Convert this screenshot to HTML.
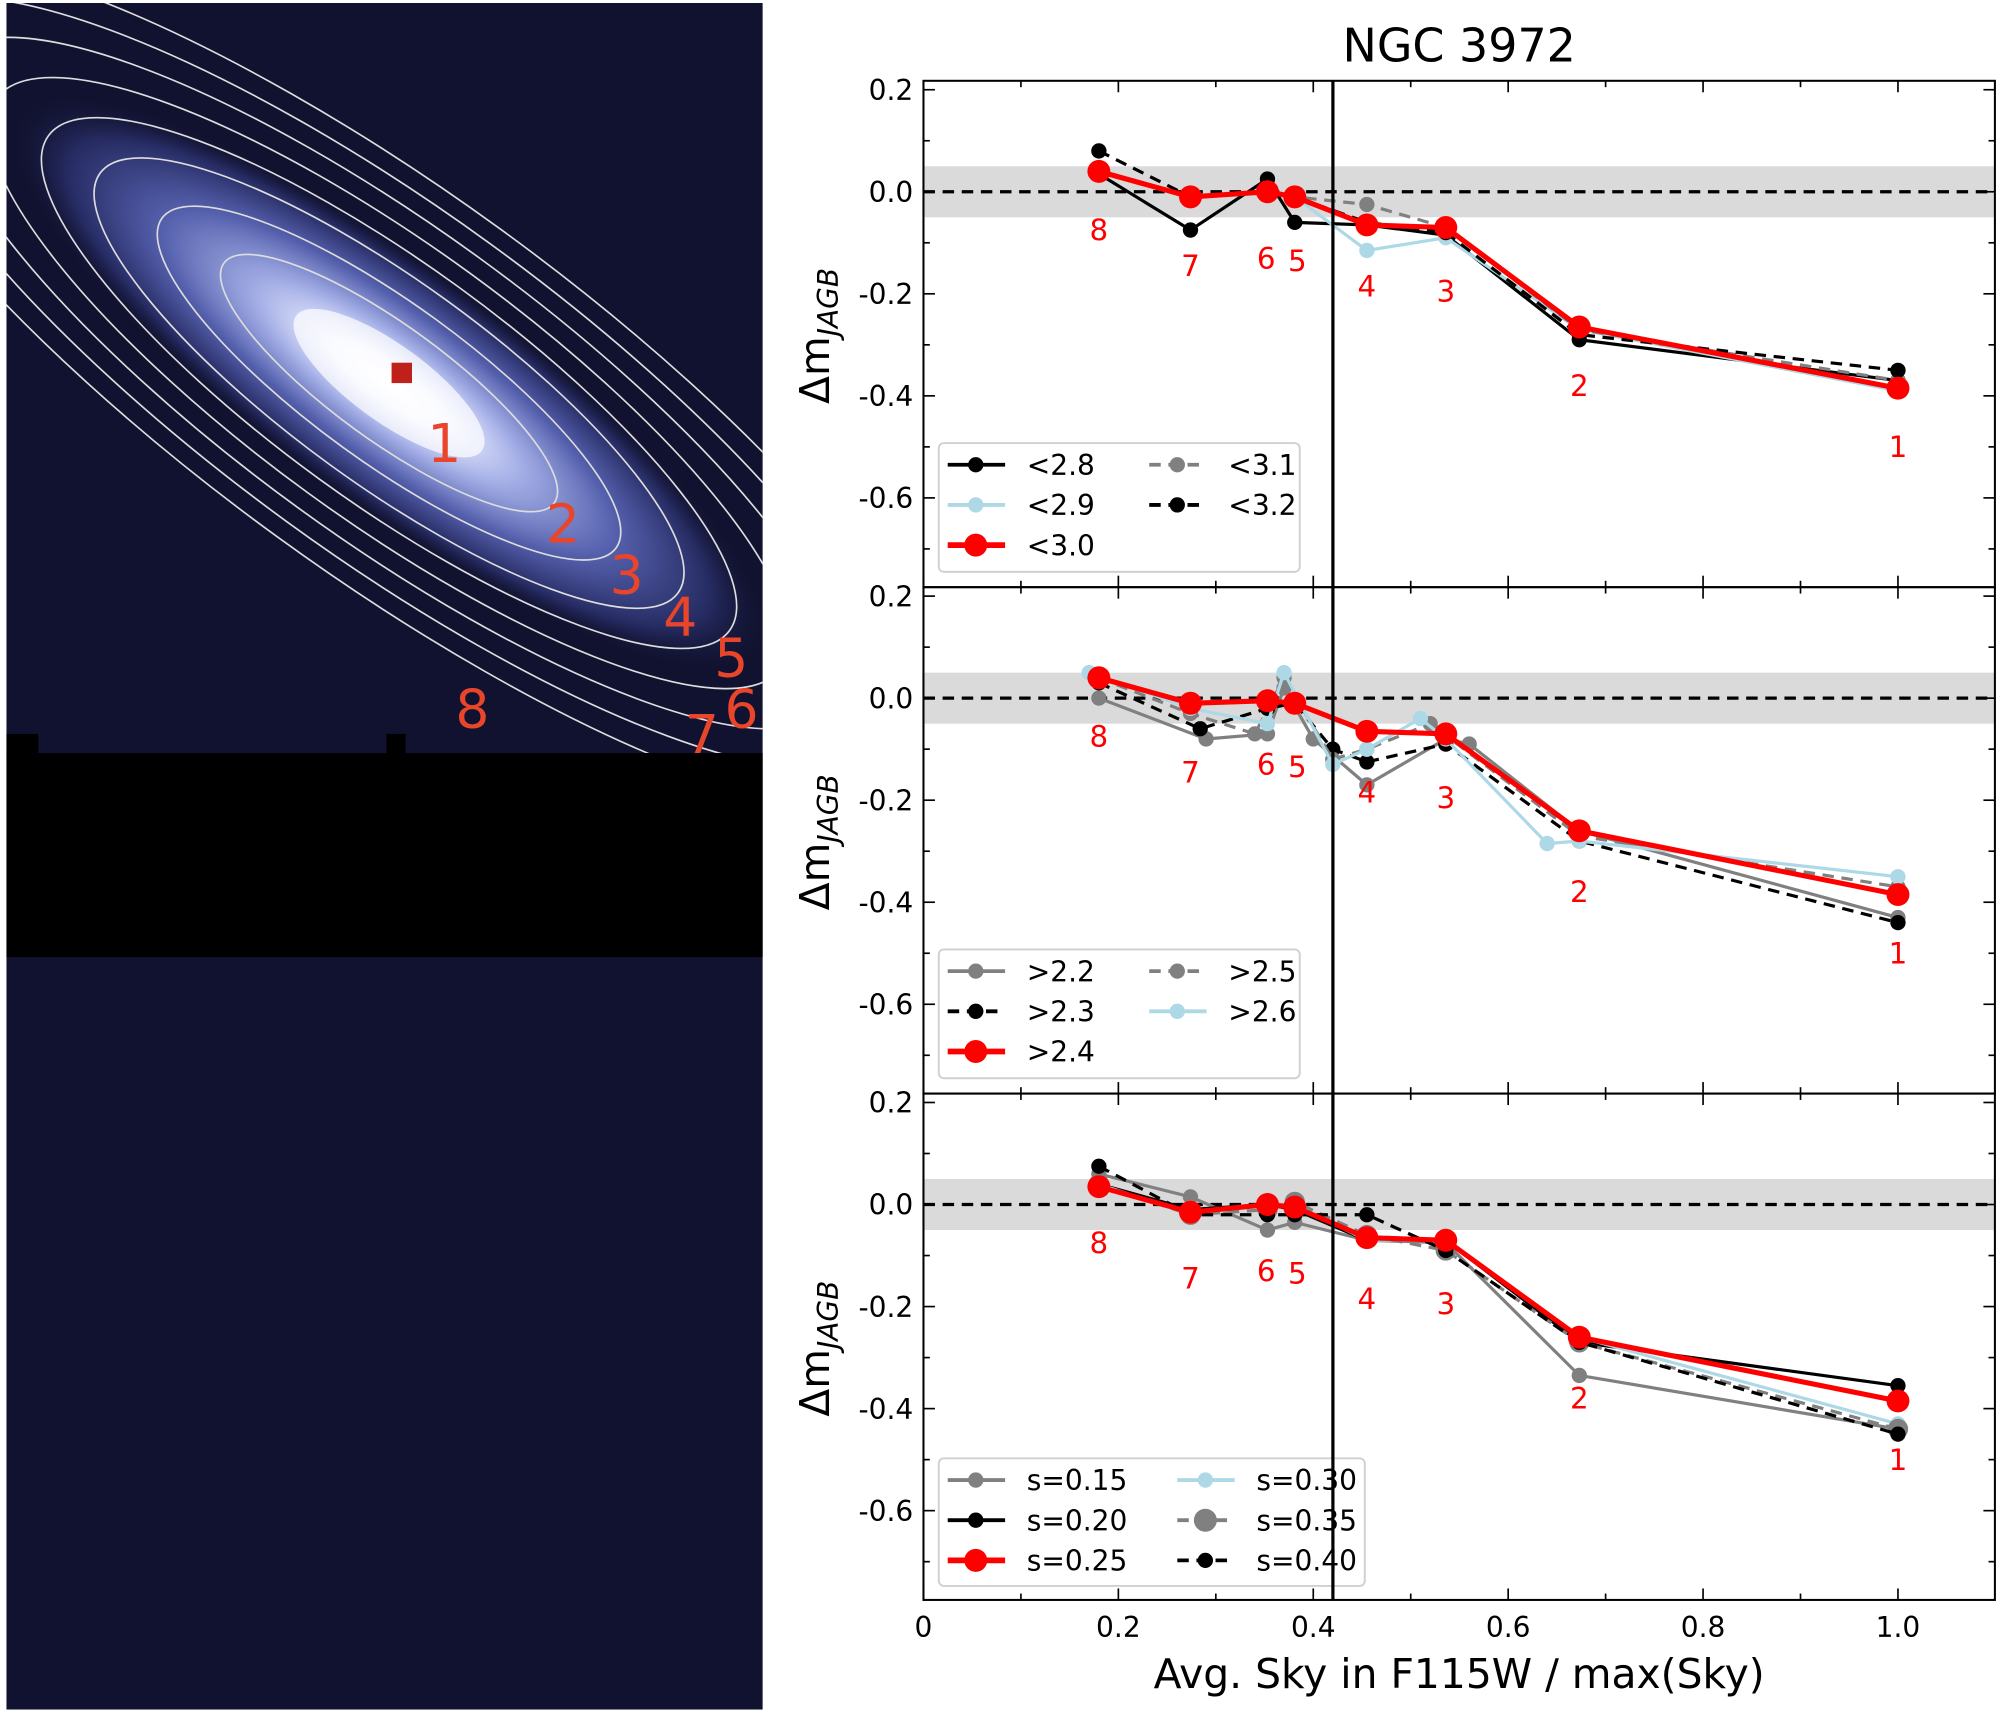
<!DOCTYPE html>
<html><head><meta charset="utf-8"><style>
html,body{margin:0;padding:0;background:#fff}
svg{display:block}
text{font-family:"DejaVu Sans","Liberation Sans",sans-serif}
</style></head><body>
<svg id="s" width="2000" height="1719" viewBox="0 0 1568 1347" xmlns="http://www.w3.org/2000/svg">
<defs>
<radialGradient id="gal" cx="0.5" cy="0.5" r="0.5">
<stop offset="0" stop-color="#ffffff"/>
<stop offset="0.15" stop-color="#eef0ff"/>
<stop offset="0.35" stop-color="#a3aee6"/>
<stop offset="0.6" stop-color="#5560ad"/>
<stop offset="0.85" stop-color="#262b62"/>
<stop offset="1" stop-color="#141634" stop-opacity="0"/>
</radialGradient>
<clipPath id="img"><rect x="5" y="2" width="593" height="1338"/></clipPath>
</defs>
<g clip-path="url(#img)">
<rect x="5" y="2" width="593" height="1338" fill="#111230"/>
<g transform="translate(305,300) rotate(36)">
<ellipse cx="0" cy="0" rx="360" ry="95" fill="url(#gal)"/>
<ellipse cx="0" cy="0" rx="90" ry="30" fill="#fff" opacity="0.7"/>
</g>
<g id="cont" transform="translate(305,300) rotate(36)" fill="none" stroke="#ddd" stroke-width="1.3"></g>
<rect x="5" y="590" width="593" height="160" fill="#000"/>
<rect x="5" y="575" width="25" height="20" fill="#000"/>
<rect x="303" y="575" width="15" height="18" fill="#000"/>
</g>
<rect x="307" y="284" width="16" height="16" fill="#c0201a"/>
<g fill="#e8452a" font-size="42" font-family="Liberation Sans,sans-serif">
<text x="335" y="362">1</text><text x="428" y="425">2</text><text x="478" y="465">3</text>
<text x="520" y="498">4</text><text x="560" y="530">5</text><text x="568" y="570">6</text>
<text x="537" y="590">7</text><text x="357" y="570">8</text>
</g>
<g id="plot"></g>
</svg>
<script>
const NS="http://www.w3.org/2000/svg";
function el(p,t,a,txt){const e=document.createElementNS(NS,t);for(const k in a)e.setAttribute(k,a[k]);if(txt!==undefined)e.textContent=txt;p.appendChild(e);return e;}
const cont=document.getElementById('cont');
[[160,45],[220,62],[280,79],[330,93],[380,107],[430,121],[480,135],[530,149]].forEach(r=>el(cont,'ellipse',{cx:0,cy:0,rx:r[0],ry:r[1]}));
const P=document.getElementById('plot');
const X=v=>724+764*v;
const tops=[63,460,857];
const Y=(p,v)=>tops[p]+(0.2175-v)*400;
const L=724,R=1564;
const xs=[0.18,0.274,0.353,0.381,0.455,0.536,0.673,1.0];
const labs=['8','7','6','5','4','3','2','1'];
const panels=[
 {series:[
  {c:'#000',d:'',w:2.5,r:6,x:xs,y:[0.035,-0.075,0.025,-0.06,-0.065,-0.085,-0.29,-0.37]},
  {c:'#add8e6',d:'',w:2.5,r:6,x:xs,y:[0.04,-0.01,0,-0.01,-0.115,-0.09,-0.27,-0.39]},
  {c:'#808080',d:'9,6',w:2.5,r:6,x:xs,y:[0.04,-0.01,0,-0.01,-0.025,-0.07,-0.27,-0.37]},
  {c:'#000',d:'9,6',w:2.5,r:6,x:xs,y:[0.08,-0.01,0,-0.01,-0.06,-0.08,-0.28,-0.35]},
  {c:'#f00',d:'',w:4,r:9,x:xs,y:[0.04,-0.01,0,-0.01,-0.065,-0.07,-0.265,-0.385]}],
  leg:[[0,'<2.8','#000','',6,2.5],[1,'<2.9','#add8e6','',6,2.5],[2,'<3.0','#f00','',9,4],[3,'<3.1','#808080','9,6',6,2.5],[4,'<3.2','#000','9,6',6,2.5]]},
 {series:[
  {c:'#808080',d:'',w:2.5,r:6,x:[0.18,0.29,0.353,0.37,0.4,0.455,0.536,0.56,0.673,1.0],y:[0,-0.08,-0.07,0.02,-0.08,-0.17,-0.08,-0.09,-0.26,-0.43]},
  {c:'#000',d:'9,6',w:2.5,r:6,x:[0.18,0.284,0.353,0.381,0.42,0.455,0.536,0.673,1.0],y:[0.03,-0.06,-0.02,-0.01,-0.1,-0.125,-0.09,-0.28,-0.44]},
  {c:'#808080',d:'9,6',w:2.5,r:6,x:[0.18,0.274,0.34,0.37,0.42,0.455,0.52,0.673,1.0],y:[0.04,-0.03,-0.07,0.04,-0.12,-0.1,-0.05,-0.27,-0.37]},
  {c:'#add8e6',d:'',w:2.5,r:6,x:[0.17,0.274,0.353,0.37,0.42,0.455,0.51,0.536,0.64,0.673,1.0],y:[0.05,-0.02,-0.05,0.05,-0.13,-0.1,-0.04,-0.08,-0.285,-0.28,-0.35]},
  {c:'#f00',d:'',w:4,r:9,x:xs,y:[0.04,-0.01,-0.005,-0.01,-0.065,-0.07,-0.26,-0.385]}],
  leg:[[0,'>2.2','#808080','',6,2.5],[1,'>2.3','#000','9,6',6,2.5],[2,'>2.4','#f00','',9,4],[3,'>2.5','#808080','9,6',6,2.5],[4,'>2.6','#add8e6','',6,2.5]]},
 {series:[
  {c:'#808080',d:'',w:2.5,r:6,x:xs,y:[0.06,0.015,-0.05,-0.035,-0.07,-0.075,-0.335,-0.44]},
  {c:'#000',d:'',w:2.5,r:6,x:xs,y:[0.04,-0.01,0,-0.01,-0.07,-0.07,-0.27,-0.355]},
  {c:'#add8e6',d:'',w:2.5,r:6,x:xs,y:[0.04,-0.02,0,0,-0.07,-0.07,-0.26,-0.43]},
  {c:'#808080',d:'9,6',w:2.5,r:8,x:xs,y:[0.04,-0.02,-0.01,0.005,-0.06,-0.09,-0.27,-0.44]},
  {c:'#000',d:'9,6',w:2.5,r:6,x:xs,y:[0.075,-0.02,-0.02,-0.02,-0.02,-0.09,-0.27,-0.45]},
  {c:'#f00',d:'',w:4,r:9,x:xs,y:[0.035,-0.015,0,-0.005,-0.065,-0.07,-0.26,-0.385]}],
  leg:[[0,'s=0.15','#808080','',6,2.5],[1,'s=0.20','#000','',6,2.5],[2,'s=0.25','#f00','',9,4],[3,'s=0.30','#add8e6','',6,2.5],[4,'s=0.35','#808080','9,6',9,2.5],[5,'s=0.40','#000','9,6',6,2.5]]}
];
const labY=[0.04-0.115,-0.01-0.135,-0.005-0.125,-0.01-0.125,-0.065-0.12,-0.07-0.125,-0.26-0.12,-0.385-0.115];
panels.forEach((pn,p)=>{
 const t=tops[p],b=t+397;
 el(P,'rect',{x:L,y:Y(p,0.05),width:R-L,height:Y(p,-0.05)-Y(p,0.05),fill:'#d3d3d3',opacity:0.85});
 el(P,'line',{x1:L,x2:R,y1:Y(p,0),y2:Y(p,0),stroke:'#000','stroke-width':2.5,'stroke-dasharray':'9,6'});
 pn.series.forEach(s=>{
  el(P,'polyline',{points:s.x.map((v,i)=>X(v)+','+Y(p,s.y[i])).join(' '),fill:'none',stroke:s.c,'stroke-width':s.w,'stroke-dasharray':s.d});
  s.x.forEach((v,i)=>el(P,'circle',{cx:X(v),cy:Y(p,s.y[i]),r:s.r,fill:s.c}));
 });
 xs.forEach((v,i)=>el(P,'text',{x:X(v)+(i==2?-1:(i==3?2:0)),y:Y(p,labY[i])+8,'font-size':23,fill:'#f00','text-anchor':'middle'},labs[i]));
 for(let k=0;k<=11;k++){const v=k*0.1,xx=X(v);if(xx>R)break;const len=k%2==0?9:5;
  el(P,'line',{x1:xx,x2:xx,y1:b,y2:b-len,stroke:'#000','stroke-width':1.3});
  el(P,'line',{x1:xx,x2:xx,y1:t,y2:t+len,stroke:'#000','stroke-width':1.3});}
 for(let k=-7;k<=2;k++){const v=k*0.1,yy=Y(p,v);const len=(k%2==0)?9:5;
  el(P,'line',{x1:L,x2:L+len,y1:yy,y2:yy,stroke:'#000','stroke-width':1.3});
  el(P,'line',{x1:R,x2:R-len,y1:yy,y2:yy,stroke:'#000','stroke-width':1.3});
  if(k%2==0) el(P,'text',{x:L-8,y:yy+8,'font-size':22,'text-anchor':'end'},(k==0?'0.0':v.toFixed(1)));}
 el(P,'rect',{x:L,y:t,width:R-L,height:397,fill:'none',stroke:'#000','stroke-width':1.6});
 const g=el(P,'g',{transform:`translate(650,${t+200}) rotate(-90)`});
 const tx=el(g,'text',{x:0,y:0,'font-size':32,'text-anchor':'middle'});
 el(tx,'tspan',{},'Δm');el(tx,'tspan',{'font-size':22,'font-style':'italic',dy:7},'JAGB');
 const big=pn.leg.length>5;
 const lh=big?[1143,1243]:(p==0?[347,448]:[744,845]);
 const lw=big?334:283, co=big?180:158;
 el(P,'rect',{x:736,y:lh[0],width:lw,height:lh[1]-lh[0],rx:4,fill:'#fff',stroke:'#ccc','stroke-width':1.5,opacity:0.9});
 pn.leg.forEach(e=>{const col=e[0]<3?0:1,row=e[0]%3;const lx=743+col*co,ly=lh[0]+17+row*31.5;
  el(P,'line',{x1:lx,x2:lx+45,y1:ly,y2:ly,stroke:e[2],'stroke-width':e[5]+0.5,'stroke-dasharray':e[3]});
  el(P,'circle',{cx:lx+22,cy:ly,r:e[4],fill:e[2]});
  el(P,'text',{x:lx+62,y:ly+8,'font-size':22},e[1]);});
});
el(P,'line',{x1:1045,x2:1045,y1:63,y2:1254,stroke:'#000','stroke-width':2.5});
[[0,'0'],[0.2,'0.2'],[0.4,'0.4'],[0.6,'0.6'],[0.8,'0.8'],[1.0,'1.0']].forEach(a=>el(P,'text',{x:X(a[0]),y:1283,'font-size':22,'text-anchor':'middle'},a[1]));
el(P,'text',{x:1144,y:1323,'font-size':32,'text-anchor':'middle'},'Avg. Sky in F115W / max(Sky)');
el(P,'text',{x:1144,y:48,'font-size':36,'text-anchor':'middle'},'NGC 3972');
</script>
</body></html>
